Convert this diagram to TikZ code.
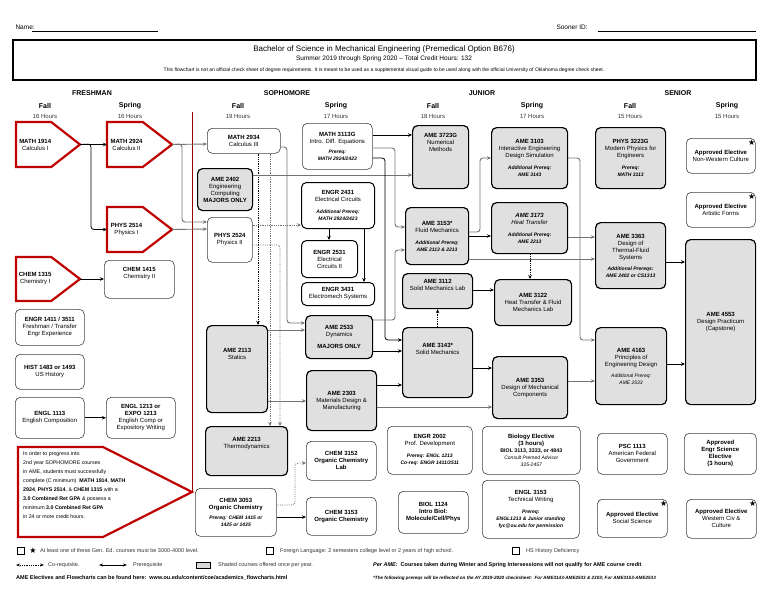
\documentclass[tikz,border=0pt]{standalone}
\usepackage{fontspec}
\setmainfont{Liberation Sans}
\newfontfamily\symf{DejaVu Sans}
\usetikzlibrary{arrows.meta,calc}
\newcommand\pq[1]{{\fontsize{5}{6}\selectfont\bfseries\itshape #1}}
\newcommand\crs[7][plain]{\node[#1,anchor=north west,minimum width=#5pt,minimum height=#6pt] (#2) at (#3,#4) {#7};}
\newcommand\pent[6]{%
 \draw[redp] (#2,#3) -- ({#2+0.55*#4},#3) -- ({#2+#4},{#3+#5/2}) -- ({#2+0.55*#4},{#3+#5}) -- (#2,{#3+#5}) -- cycle;
 \node[font=\fontsize{6}{7}\selectfont,align=center] (#1) at ({#2+0.3*#4},{#3+#5/2}) {#6};
 \coordinate (#1-tip) at ({#2+#4},{#3+#5/2});}
\begin{document}
\begin{tikzpicture}[x=1pt,y=-1pt,
 base/.style={rounded corners=5pt,align=center,inner sep=1pt,font=\fontsize{6}{7}\selectfont},
 plain/.style={base,draw=black!75,line width=0.6pt,fill=white},
 shd/.style={base,draw=black,line width=1.2pt,fill=black!12},
 blk/.style={base,draw=black,line width=1pt,fill=white},
 redp/.style={draw=red!75!black,line width=2.2pt,line join=miter},
 ar/.style={-{Stealth[length=4pt,width=3.5pt]},line width=0.8pt,rounded corners=3pt},
 gar/.style={ar,draw=black!55,line width=0.9pt},
 dar/.style={ar,densely dotted},
 hdr/.style={font=\fontsize{7}{8}\selectfont\bfseries},
 hrs/.style={font=\fontsize{6}{7}\selectfont,text=black!80}]
\useasboundingbox (0,0) rectangle (768,594);
% top
\node[anchor=west,font=\fontsize{6.5}{7}\selectfont] (nm) at (12,27) {Name:};
\draw[line width=0.6pt] (32,31) -- (158,31);
\node[anchor=west,font=\fontsize{6.5}{7}\selectfont] (sid) at (553,27) {Sooner ID:};
\draw[line width=0.6pt] (598,31) -- (756,31);
\draw[line width=1.6pt] (13,40) rectangle (756,80);
\node[font=\fontsize{8}{9}\selectfont] (t1) at (384,49) {Bachelor of Science in Mechanical Engineering (Premedical Option B676)};
\node[font=\fontsize{6.5}{7}\selectfont] (t2) at (384,59) {Summer 2019 through Spring 2020 -- Total Credit Hours: 132};
\node[font=\fontsize{5}{6}\selectfont] (t3) at (384,70) {This flowchart is not an official check sheet of degree requirements. It is meant to be used as a supplemental visual guide to be used along with the official University of Oklahoma degree check sheet.};
% headers
\node[hdr] (y1) at (92,93) {FRESHMAN};
\node[hdr] (y2) at (287,93) {SOPHOMORE};
\node[hdr] (y3) at (482,93) {JUNIOR};
\node[hdr] (y4) at (678,93) {SENIOR};
\foreach \x/\s/\h [count=\i] in {45/Fall/16,130/Spring/16,238/Fall/19,336/Spring/17,433/Fall/18,532/Spring/17,630/Fall/15,727/Spring/15}{
 \node[hdr] (s\i) at (\x,106) {\s};
 \node[hrs] (h\i) at (\x,116) {\h\ Hours};}
\draw[red!60!black,line width=0.6pt] (192,112) -- (192,492);
% freshman
\pent{m1914}{16}{122}{64}{45}{\textbf{MATH 1914}\\Calculus I}
\pent{m2924}{107}{122}{65}{45}{\textbf{MATH 2924}\\Calculus II}
\pent{p2514}{107}{207}{65}{45}{\textbf{PHYS 2514}\\Physics I}
\pent{c1315}{16}{257}{64}{44}{\textbf{CHEM 1315}\\Chemistry I}
\crs{c1415}{104}{260}{70}{38}{\textbf{CHEM 1415}\\Chemistry II\\[6pt]}
\crs{e1411}{15}{309}{69}{36}{\textbf{ENGR 1411 / 3511}\\Freshman / Transfer\\Engr Experience}
\crs{h1483}{15}{354}{69}{35}{\textbf{HIST 1483 or 1493}\\US History}
\crs{e1113}{15}{397}{69}{41}{\textbf{ENGL 1113}\\English Composition}
\crs{e1213}{106}{397}{69}{41}{\textbf{ENGL 1213 or}\\\textbf{EXPO 1213}\\English Comp or\\Expository Writing}
\draw[redp] (18,447) -- (103,447) -- (192,492) -- (103,537) -- (18,537) -- cycle;
\node[anchor=north west,align=left,font=\fontsize{5.3}{9}\selectfont,inner sep=0pt] (note) at (23,451) {In order to progress into\\2nd year SOPHOMORE courses\\in AME, students must successfully\\complete (C minimum)\ \ \textbf{MATH 1914}, \textbf{MATH}\\\textbf{2924}, \textbf{PHYS 2514}, \& \textbf{CHEM 1315} with a\\\textbf{3.0 Combined Ret GPA} \& possess a\\minimum \textbf{3.0 Combined Ret GPA}\\in 24 or more credit hours.};
% sophomore fall
\crs{m2934}{207}{128}{73}{25}{\textbf{MATH 2934}\\Calculus III}
\crs[shd]{a2402}{197}{168}{55}{42}{\textbf{AME 2402}\\Engineering\\Computing\\\textbf{MAJORS ONLY}}
\crs{p2524}{207}{217}{45}{45}{\textbf{PHYS 2524}\\Physics II}
\crs[shd]{a2113}{206}{325}{61}{87}{\textbf{AME 2113}\\Statics\\[24pt]}
\crs[shd]{a2213}{205}{426}{82}{49}{\textbf{AME 2213}\\Thermodynamics\\[10pt]}
\crs{c3053}{195}{488}{81}{48}{\textbf{CHEM 3053}\\\textbf{Organic Chemistry}\\[3pt]\pq{Prereq: CHEM 1415 or}\\\pq{1425 or 1435}}
% sophomore spring
\crs{m3113}{302}{123}{70}{46}{\textbf{MATH 3113G}\\Intro. Diff. Equations\\[3pt]\pq{Prereq:}\\\pq{MATH 2924/2423}}
\crs[blk]{e2431}{301}{182}{73}{46}{\textbf{ENGR 2431}\\Electrical Circuits\\[5pt]\pq{Additional Prereq:}\\\pq{MATH 2924/2423}}
\crs[blk]{e2531}{301}{240}{56}{37}{\textbf{ENGR 2531}\\Electrical\\Circuits II}
\crs[blk]{e3431}{301}{282}{73}{23}{\textbf{ENGR 3431}\\Electromech Systems}
\crs[shd]{a2533}{305}{315}{67}{43}{\textbf{AME 2533}\\Dynamics\\[5pt]\textbf{MAJORS ONLY}}
\crs[shd]{a2303}{306}{370}{70}{60}{\textbf{AME 2303}\\Materials Design \&\\Manufacturing}
\crs{c3152}{306}{441}{70}{39}{\textbf{CHEM 3152}\\\textbf{Organic Chemistry}\\\textbf{Lab}}
\crs{c3153}{306}{497}{70}{38}{\textbf{CHEM 3153}\\\textbf{Organic Chemistry}}
% junior fall
\crs[shd]{a3723}{412}{125}{56}{63}{\textbf{AME 3723G}\\Numerical\\Methods\\[22pt]}
\crs[shd]{a3153}{405}{207}{63}{57}{\textbf{AME 3153*}\\Fluid Mechanics\\[5pt]\pq{Additional Prereq:}\\\pq{AME 2113 \& 2213}}
\crs[shd]{a3112}{402}{273}{70}{35}{\textbf{AME 3112}\\Solid Mechanics Lab\\[6pt]}
\crs[shd]{a3143}{402}{327}{70}{70}{\textbf{AME 3143*}\\Solid Mechanics\\[20pt]}
\crs{e2002}{387}{426}{85}{48}{\textbf{ENGR 2002}\\Prof. Development\\[5pt]\pq{Prereq: ENGL 1213}\\\pq{Co-req: ENGR 1411/3511}}
\crs{b1124}{398}{491}{70}{42}{\textbf{BIOL 1124}\\\textbf{Intro Biol:}\\\textbf{Molecule/Cell/Phys}}
% junior spring
\crs[shd]{a3103}{491}{127}{76}{61}{\textbf{AME 3103}\\Interactive Engineering\\Design Simulation\\[5pt]\pq{Additional Prereq:}\\\pq{AME 3143}}
\crs[shd]{a3173}{491}{202}{76}{51}{\textbf{\textit{AME 3173}}\\\textit{Heat Transfer}\\[5pt]\pq{Additional Prereq:}\\\pq{AME 2213}}
\crs[shd]{a3122}{494}{279}{77}{46}{\textbf{AME 3122}\\Heat Transfer \& Fluid\\Mechanics Lab}
\crs[shd]{a3353}{492}{356}{75}{62}{\textbf{AME 3353}\\Design of Mechanical\\Components}
\crs{bioe}{482}{426}{98}{48}{\textbf{Biology Elective}\\\textbf{(3 hours)}\\{\fontsize{5.3}{6}\selectfont\bfseries BIOL 3113, 3333, or 4843}\\{\fontsize{5}{6}\selectfont\itshape Consult Premed Advisor}\\{\fontsize{5}{6}\selectfont\itshape 325-2457}}
\crs{e3153}{482}{480}{97}{58}{\textbf{ENGL 3153}\\Technical Writing\\[5pt]\pq{Prereq:}\\\pq{ENGL1213 \& Junior standing}\\\pq{fyc@ou.edu for permission}}
% senior fall
\crs[shd]{p3223}{595}{127}{70}{61}{\textbf{PHYS 3223G}\\Modern Physics for\\Engineers\\[5pt]\pq{Prereq:}\\\pq{MATH 3113}}
\crs[shd]{a3363}{595}{222}{70}{66}{\textbf{AME 3363}\\Design of\\Thermal-Fluid\\Systems\\[4pt]\pq{Additional Prereqs:}\\\pq{AME 2402 or CS1313}}
\crs[shd]{a4163}{595}{327}{71}{77}{\textbf{AME 4163}\\Principles of\\Engineering Design\\[4pt]{\fontsize{5}{6}\selectfont\itshape Additional Prereq:}\\{\fontsize{5}{6}\selectfont\itshape AME 2533}}
\crs{psc}{597}{433}{70}{41}{\textbf{PSC 1113}\\American Federal\\Government}
\crs{soc}{597}{499}{70}{38}{\textbf{Approved Elective}\\Social Science}
% senior spring
\crs{nonw}{686}{138}{69}{35}{\textbf{Approved Elective}\\Non-Western Culture}
\crs{art}{686}{192}{69}{35}{\textbf{Approved Elective}\\Artistic Forms}
\crs[shd]{a4553}{685}{239}{70}{165}{\textbf{AME 4553}\\Design Practicum\\(Capstone)}
\crs{engs}{684}{433}{72}{41}{\textbf{Approved}\\\textbf{Engr Science}\\\textbf{Elective}\\\textbf{(3 hours)}}
\crs{wciv}{686}{499}{70}{39}{\textbf{Approved Elective}\\Western Civ \&\\Culture}
\foreach \n in {nonw,art,soc,wciv}{\node[font=\symf\fontsize{8}{8}\selectfont,inner sep=0pt] (\n-star) at ($(\n.north east)+(-4,5)$) {★};}
% connectors freshman
\draw[ar] (m1914-tip) -- (m2924.west -| 107,144);
\draw[ar] (m1914-tip) -- (91,144) |- (p2514.west -| 107,229);
\draw[gar] (m2924-tip) -- (m2934.west |- 0,144);
\draw[gar] (m2924-tip) -- (182,144) |- (p2524.west |- 0,222);
\draw[gar] (p2514-tip) -- (p2524.west |- 0,229);
\draw[ar] (c1315-tip) -- (c1415.west |- 0,279);
\draw[ar] (e1113.east) -- (e1213.west);
% sophomore
\draw[dar] (m2934.south -| 258,0) -- (a2113.north -| 258,0);
\draw[dar,draw=black!55] (m2934.south -| 270,0) -- (a2213.north -| 270,0);
\draw[dar,draw=black!55] (p2524.east |- 0,245) -- (280,245) -- (a2213.north -| 280,0);
\draw[gar] (m2934.east |- 0,147) -- (287,147) |- (a2533.west |- 0,323);
\draw[gar] (a2402.east |- 0,175) -- (a3723.west |- 0,175);
\draw[dar,draw=black!55] (p2524.east |- 0,225) -- (e2431.west |- 0,225);
\draw[ar] (e2431.south -| 329,0) -- (e2531.north -| 329,0);
\draw[ar] (e2431.south -| 364,0) -- (e3431.north -| 364,0);
\draw[ar] (m3113.east |- 0,135) -- (a3723.west |- 0,135);
\draw[gar] (m3113.east |- 0,148) -- (395,148) |- (a3153.west |- 0,227);
\draw[ar] (m3113.east |- 0,158) -- (385,158) |- (a3143.west |- 0,340);
\draw[gar] (a2113.east |- 0,330) -- (a2533.west |- 0,330);
\draw[gar] (a2113.east |- 0,401) -- (a2303.west |- 0,401);
\draw[gar] (a2533.east |- 0,320) -- (395,320) |- (a3153.west |- 0,250);
\draw[ar] (a2533.east |- 0,351) -- (a3143.west |- 0,351);
\draw[ar] (a2303.east |- 0,385) -- (a3143.west |- 0,385);
\draw[gar] (a2303.east |- 0,407) -- (a3353.west |- 0,407);
\draw[dar,draw=black!55] (c3053.east |- 0,505) -- (295,505) |- (c3152.west |- 0,463);
\draw[ar] (c3053.east |- 0,517) -- (c3153.west |- 0,517);
% junior / senior
\draw[dar] (a3143.north) -- (a3112.south);
\draw[ar] (a3112.east |- 0,290) -- (a3122.west |- 0,290);
\draw[ar] (a3153.east |- 0,236) -- (a3173.west |- 0,236);
\draw[gar] (a3153.east |- 0,232) -- (480,232) |- (a3103.west |- 0,158);
\draw[gar] (a3153.east |- 0,259) -- (a3363.west |- 0,259);
\draw[dar] (a3173.south -| 530,0) -- (a3122.north -| 530,0);
\draw[gar] (a3173.east |- 0,237) -- (a3363.west |- 0,237);
\draw[gar] (a3103.east |- 0,158) -- (580,158) |- (a4163.west |- 0,340);
\draw[ar] (a3363.east |- 0,262) -- (a4553.west |- 0,262);
\draw[ar] (a4163.east |- 0,364) -- (a4553.west |- 0,364);
\draw[gar] (a3353.east |- 0,381) -- (a4163.west |- 0,381);
\draw[ar] (a3143.east |- 0,368) -- (a3353.west |- 0,368);
% legend
\tikzset{lg/.style={anchor=west,font=\fontsize{5.5}{6}\selectfont,text=black!80,inner sep=0pt}}
\draw[line width=0.6pt] (17,547) rectangle (24,554);
\node[font=\symf\fontsize{8}{8}\selectfont,inner sep=0pt] (lstar) at (33,551) {★};
\node[lg] (l1) at (40,551) {At least one of these Gen. Ed. courses must be 3000-4000 level.};
\draw[line width=0.6pt] (266,547) rectangle (273,554);
\node[lg] (l2) at (280,551) {Foreign Language: 2 semesters college level or 2 years of high school.};
\draw[line width=0.6pt] (512,547) rectangle (519,554);
\node[lg] (l3) at (526,551) {HS History Deficiency};
\coordinate (la) at (16,565); \coordinate (lb) at (44,565);
\draw[{Stealth[length=4pt]}-{Stealth[length=4pt]},densely dotted,line width=0.8pt] (la) -- (lb);
\node[lg] (l4) at (48,565) {Co-requisite.};
\coordinate (lc) at (99,565); \coordinate (ld) at (127,565);
\draw[{Stealth[length=4pt]}-{Stealth[length=4pt]},line width=0.8pt] (lc) -- (ld);
\node[lg] (l5) at (133,565) {Prerequisite};
\draw[line width=0.6pt,fill=black!15] (196,562) rectangle (210,568);
\node[lg] (l6) at (218,565) {Shaded courses offered once per year.};
\node[lg,font=\fontsize{5.5}{6}\selectfont\bfseries,text=black] (l7) at (373,565) {\textit{Per AME:}\ \ Courses taken during Winter and Spring Intersessions will not qualify for AME course credit};
\node[lg,font=\fontsize{5.5}{6}\selectfont\bfseries,text=black] (l8) at (16,578) {AME Electives and Flowcharts can be found here:\ \ www.ou.edu/content/coe/academics\_flowcharts.html};
\node[lg,font=\fontsize{4.6}{6}\selectfont\bfseries\itshape,text=black] (l9) at (373,578) {*The following prereqs will be reflected on the AY 2019-2020 checksheet:\ \ For AME3143-AME2533 \& 2303; For AME3153-AME2533};
\end{tikzpicture}
\end{document}
